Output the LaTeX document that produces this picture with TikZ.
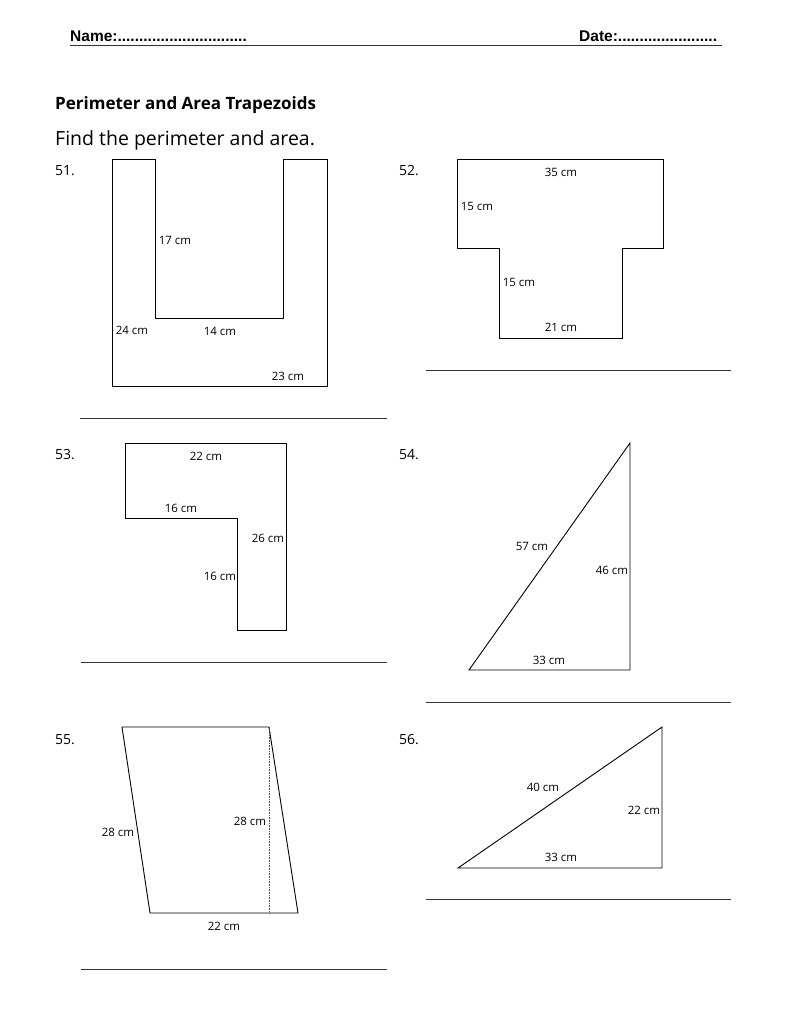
\documentclass[tikz,border=0pt]{standalone}
\usepackage{fontspec}
\setmainfont{Open Sans}
\newfontfamily\arialf{Liberation Sans}
\begin{document}
\begin{tikzpicture}[x=1pt,y=-1pt,
  shp/.style={draw=black,line width=0.9pt},
  ans/.style={draw=black!80,line width=0.7pt},
  lbl/.style={font=\fontsize{11.5}{13}\selectfont,inner sep=0pt},
  num/.style={font=\fontsize{14}{16}\selectfont,anchor=west,inner sep=0pt}]
\path[use as bounding box,fill=white] (0,0) rectangle (794,1028);
% header
\node[anchor=west,inner sep=0pt,font=\arialf\bfseries\fontsize{15.5}{17}\selectfont] (nm) at (70,36) {Name:..............................};
\node[anchor=west,inner sep=0pt,font=\arialf\bfseries\fontsize{15.5}{17}\selectfont] (dt) at (579,36) {Date:.......................};
\draw[ans] (70,45) -- (722,45);
\node[anchor=west,inner sep=0pt,font=\bfseries\fontsize{17}{19}\selectfont] (tt) at (55,105) {Perimeter and Area Trapezoids};
\node[anchor=west,inner sep=0pt,font=\fontsize{19.5}{22}\selectfont] (st) at (55,140) {Find the perimeter and area.};
% 51
\node[num] (n51) at (55,171) {51.};
\draw[shp] (112,159)--(155,159)--(155,318)--(283,318)--(283,159)--(327,159)--(327,386)--(112,386)--cycle;
\node[lbl] (a1) at (175,240) {17 cm};
\node[lbl] (a2) at (132,330) {24 cm};
\node[lbl] (a3) at (220,331) {14 cm};
\node[lbl] (a4) at (288,376) {23 cm};
\draw[ans] (80,418)--(387,418);
% 52
\node[num] (n52) at (399,171) {52.};
\draw[shp] (457,159)--(663,159)--(663,248)--(622,248)--(622,338)--(499,338)--(499,248)--(457,248)--cycle;
\node[lbl] (b1) at (561,172) {35 cm};
\node[lbl] (b2) at (477,206) {15 cm};
\node[lbl] (b3) at (519,282) {15 cm};
\node[lbl] (b4) at (561,327) {21 cm};
\draw[ans] (426,370)--(731,370);
% 53
\node[num] (n53) at (55,455) {53.};
\draw[shp] (125,443)--(286,443)--(286,630)--(237,630)--(237,518)--(125,518)--cycle;
\node[lbl] (c1) at (206,456) {22 cm};
\node[lbl] (c2) at (181,508) {16 cm};
\node[lbl] (c3) at (268,538) {26 cm};
\node[lbl] (c4) at (220,576) {16 cm};
\draw[ans] (81,662)--(387,662);
% 54
\node[num] (n54) at (399,455) {54.};
\draw[shp] (469,670)--(630,443)--(630,670)--cycle;
\node[lbl] (d1) at (532,546) {57 cm};
\node[lbl] (d2) at (612,570) {46 cm};
\node[lbl] (d3) at (549,660) {33 cm};
\draw[ans] (426,702)--(731,702);
% 55
\node[num] (n55) at (55,740) {55.};
\draw[shp] (122,727)--(269,727)--(298,913)--(150,913)--cycle;
\draw[densely dotted,line width=0.6pt,black!70] (269,727)--(269,913);
\node[lbl] (e1) at (118,832) {28 cm};
\node[lbl] (e2) at (250,821) {28 cm};
\node[lbl] (e3) at (224,926) {22 cm};
\draw[ans] (81,969)--(387,969);
% 56
\node[num] (n56) at (399,740) {56.};
\draw[shp] (458,868)--(662,727)--(662,868)--cycle;
\node[lbl] (f1) at (543,787) {40 cm};
\node[lbl] (f2) at (644,810) {22 cm};
\node[lbl] (f3) at (561,857) {33 cm};
\draw[ans] (426,899)--(731,899);
\end{tikzpicture}
\end{document}
